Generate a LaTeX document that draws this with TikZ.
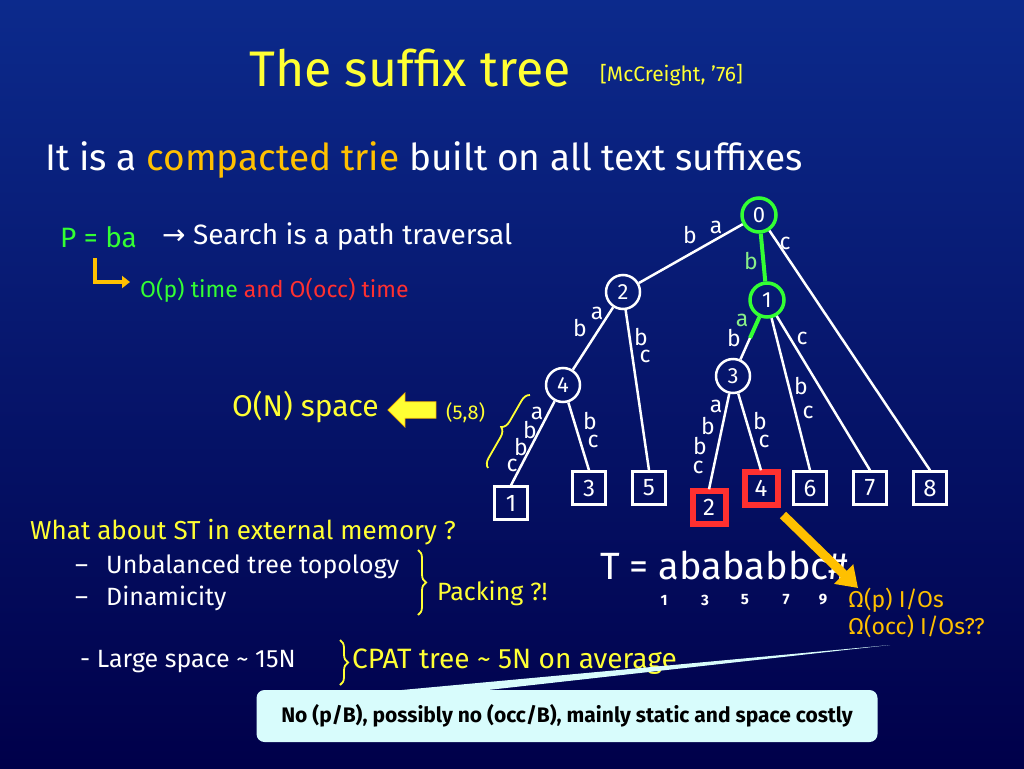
\documentclass[tikz,border=0pt]{standalone}
\usepackage{fontspec}
\setmainfont{Fira Sans}
\usepackage{tikz}
\usetikzlibrary{shapes.arrows,arrows.meta,positioning,calc,decorations.pathreplacing}
\definecolor{bgtop}{HTML}{0C2A8C}
\definecolor{bgbot}{HTML}{00004A}
\definecolor{ylw}{HTML}{FFFF33}
\definecolor{orng}{HTML}{FFC000}
\definecolor{grn}{HTML}{33FF33}
\definecolor{lgrn}{HTML}{88EE88}
\definecolor{redd}{HTML}{FF3030}
\definecolor{callout}{HTML}{D8FCFC}
\newcommand{\fs}[1]{\fontsize{#1}{#1}\selectfont}

\begin{document}
\begin{tikzpicture}[
    x=1pt, y=-1pt,
    >=Stealth,
    inode/.style={circle, draw=white, line width=2.5pt, minimum size=34pt, inner sep=0pt, text=white, font=\fs{22}},
    leaf/.style={draw=white, line width=2.5pt, minimum size=33pt, inner sep=0pt, text=white, font=\fs{24}},
    edge/.style={white, line width=2.5pt},
    lbl/.style={text=white, font=\fs{23}, inner sep=0pt},
    txt/.style={anchor=west, inner sep=0pt}
]
    % Background
    \shade[top color=bgtop, bottom color=bgbot] (0,0) rectangle (1024,768);
    \useasboundingbox (0,0) rectangle (1024,768);

    % Title
    \node[text=ylw, font=\fs{50}] (title) at (410,68) {The suffix tree};
    \node[txt, text=ylw, font=\fs{21}] (cite) at (600,75) {[McCreight, ’76]};
    \node[txt, text=white, font=\fs{37}] (intro) at (45,160) {It is a \textcolor{orng}{compacted trie} built on all text suffixes};

    % Query
    \node[txt, text=grn, font=\fs{28}] (pat) at (60,237) {P = ba};
    \node[txt, text=white, font=\fs{28}] (search) at (162,237) {{\fontspec{DejaVu Sans}→} Search is a path traversal};
    \coordinate (lt) at (95,258);
    \coordinate (lb) at (95,282);
    \coordinate (lr) at (130,282);
    \draw[orng, line width=4pt, -{Triangle[length=8pt,width=12pt]}] (lt) -- (lb) -- (lr);
    \node[txt, font=\fs{23}] (time) at (140,290) {\textcolor{grn}{O(p) time} \textcolor{redd}{and O(occ) time}};

    % Internal nodes
    \node[inode, draw=grn, line width=3.5pt] (n0) at (759,215) {0};
    \node[inode] (n2) at (623,292) {2};
    \node[inode, draw=grn, line width=3.5pt] (n1) at (767,300) {1};
    \node[inode] (n4) at (563,385) {4};
    \node[inode] (n3) at (733,376) {3};

    % Leaves
    \node[leaf] (l1) at (511,503) {1};
    \node[leaf] (l3) at (589,488) {3};
    \node[leaf] (l5) at (649,488) {5};
    \node[leaf, draw=redd, double=redd, double distance=1pt] (l2) at (709,507) {2};
    \node[leaf, draw=redd, double=redd, double distance=1pt] (l4) at (761,488) {4};
    \node[leaf] (l6) at (810,488) {6};
    \node[leaf] (l7) at (870,488) {7};
    \node[leaf] (l8) at (930,488) {8};

    % Edges
    \draw[edge] (n0) -- (n2);
    \draw[grn, line width=4pt] (n0) -- (n1);
    \draw[edge] (n0) -- (l8.north);
    \draw[edge] (n2) -- (n4);
    \draw[edge] (n2) -- (l5.north);
    \draw[edge] (n1) -- (n3);
    \coordinate (gmid) at ($(n1)!0.5!(n3)$);
    \draw[grn, line width=4pt] (n1) -- (gmid);
    \draw[edge] (n1) -- (l6.north);
    \draw[edge] (n1) -- (l7.north);
    \draw[edge] (n4) -- (l1.north);
    \draw[edge] (n4) -- (l3.north);
    \draw[edge] (n3) -- (l2.north);
    \draw[edge] (n3) -- (l4.north);

    % Edge labels
    \node[lbl] (e1) at (690,235) {b};
    \node[lbl] (e2) at (716,227) {a};
    \node[lbl] (e3) at (785,243) {c};
    \node[lbl, text=lgrn] (e4) at (751,261) {b};
    \node[lbl] (e5) at (580,328) {b};
    \node[lbl] (e6) at (597,313) {a};
    \node[lbl] (e7) at (641,337) {b};
    \node[lbl] (e8) at (645,356) {c};
    \node[lbl, text=lgrn] (e9) at (742,320) {a};
    \node[lbl] (e10) at (734,338) {b};
    \node[lbl] (e11) at (802,338) {c};
    \node[lbl] (e12) at (801,386) {b};
    \node[lbl] (e13) at (808,412) {c};
    \node[lbl] (e14) at (537,413) {a};
    \node[lbl] (e15) at (530,430) {b};
    \node[lbl] (e16) at (521,447) {b};
    \node[lbl] (e17) at (512,465) {c};
    \node[lbl] (e18) at (590,421) {b};
    \node[lbl] (e19) at (593,441) {c};
    \node[lbl] (e20) at (716,406) {a};
    \node[lbl] (e21) at (708,426) {b};
    \node[lbl] (e22) at (700,446) {b};
    \node[lbl] (e23) at (698,467) {c};
    \node[lbl] (e24) at (760,421) {b};
    \node[lbl] (e25) at (764,441) {c};

    % Space
    \coordinate (bt) at (530,395);
    \coordinate (bb) at (488,468);
    \draw[ylw, line width=1.8pt, decorate, decoration={brace, amplitude=9pt}] (bb) -- (bt);
    \node[txt, text=ylw, font=\fs{20}] (pair) at (446,413) {(5,8)};
    \node[single arrow, fill=ylw, draw=orng, thick, shape border rotate=180, minimum height=48pt, minimum width=34pt, single arrow head extend=4pt] (spacearr) at (416,410) {};
    \node[txt, text=ylw, font=\fs{30}] (space) at (232,407) {O(N) space};

    % External memory
    \node[txt, text=ylw, font=\fs{26}] (ext) at (30,532) {What about ST in external memory ?};
    \node[txt, text=white, font=\fs{25}] (unbal) at (75,567) {–\hspace{18pt}Unbalanced tree topology};
    \node[txt, text=white, font=\fs{25}] (dyn) at (75,598) {–\hspace{18pt}Dinamicity};
    \coordinate (pt) at (418,550);
    \coordinate (pb) at (418,615);
    \draw[ylw, line width=1.8pt, decorate, decoration={brace, amplitude=8pt}] (pt) -- (pb);
    \node[txt, text=ylw, font=\fs{25}] (pack) at (437,593) {Packing ?!};
    \node[txt, text=white, font=\fs{25}] (large) at (80,662) {- Large space \textasciitilde{} 15N};
    \coordinate (ct) at (340,640);
    \coordinate (cb) at (340,685);
    \draw[ylw, line width=1.8pt, decorate, decoration={brace, amplitude=8pt}] (ct) -- (cb);
    \node[txt, text=ylw, font=\fs{28}] (cpat) at (352,662) {CPAT tree \textasciitilde{} 5N on average};

    % Text string
    \node[txt, text=white, font=\fs{38}] (tstr) at (600,565) {T = abababbc\#};
    \foreach \i/\x in {1/664,3/705,5/745,7/786,9/823}
        \node[text=white, font=\fs{15}\bfseries] (pos\i) at (\x,600) {\i};
    \node[txt, text=orng, font=\fs{23}] (iop) at (848,600) {Ω(p) I/Os};
    \node[txt, text=orng, font=\fs{23}] (iocc) at (848,626) {Ω(occ) I/Os??};
    \coordinate (ya) at (783,515);
    \coordinate (yb) at (858,588);
    \draw[orng, line width=9pt, -{Triangle[length=20pt,width=26pt]}] (ya) -- (yb);

    % Callout
    \coordinate (tip) at (890,645);
    \fill[callout] (380,692) -- (tip) -- (470,692) -- cycle;
    \node[fill=callout, rounded corners=8pt, minimum width=621pt, minimum height=52pt, font=\fs{21}\bfseries, text=black] (note) at (567,716) {No (p/B), possibly no (occ/B), mainly static and space costly};
\end{tikzpicture}
\end{document}
